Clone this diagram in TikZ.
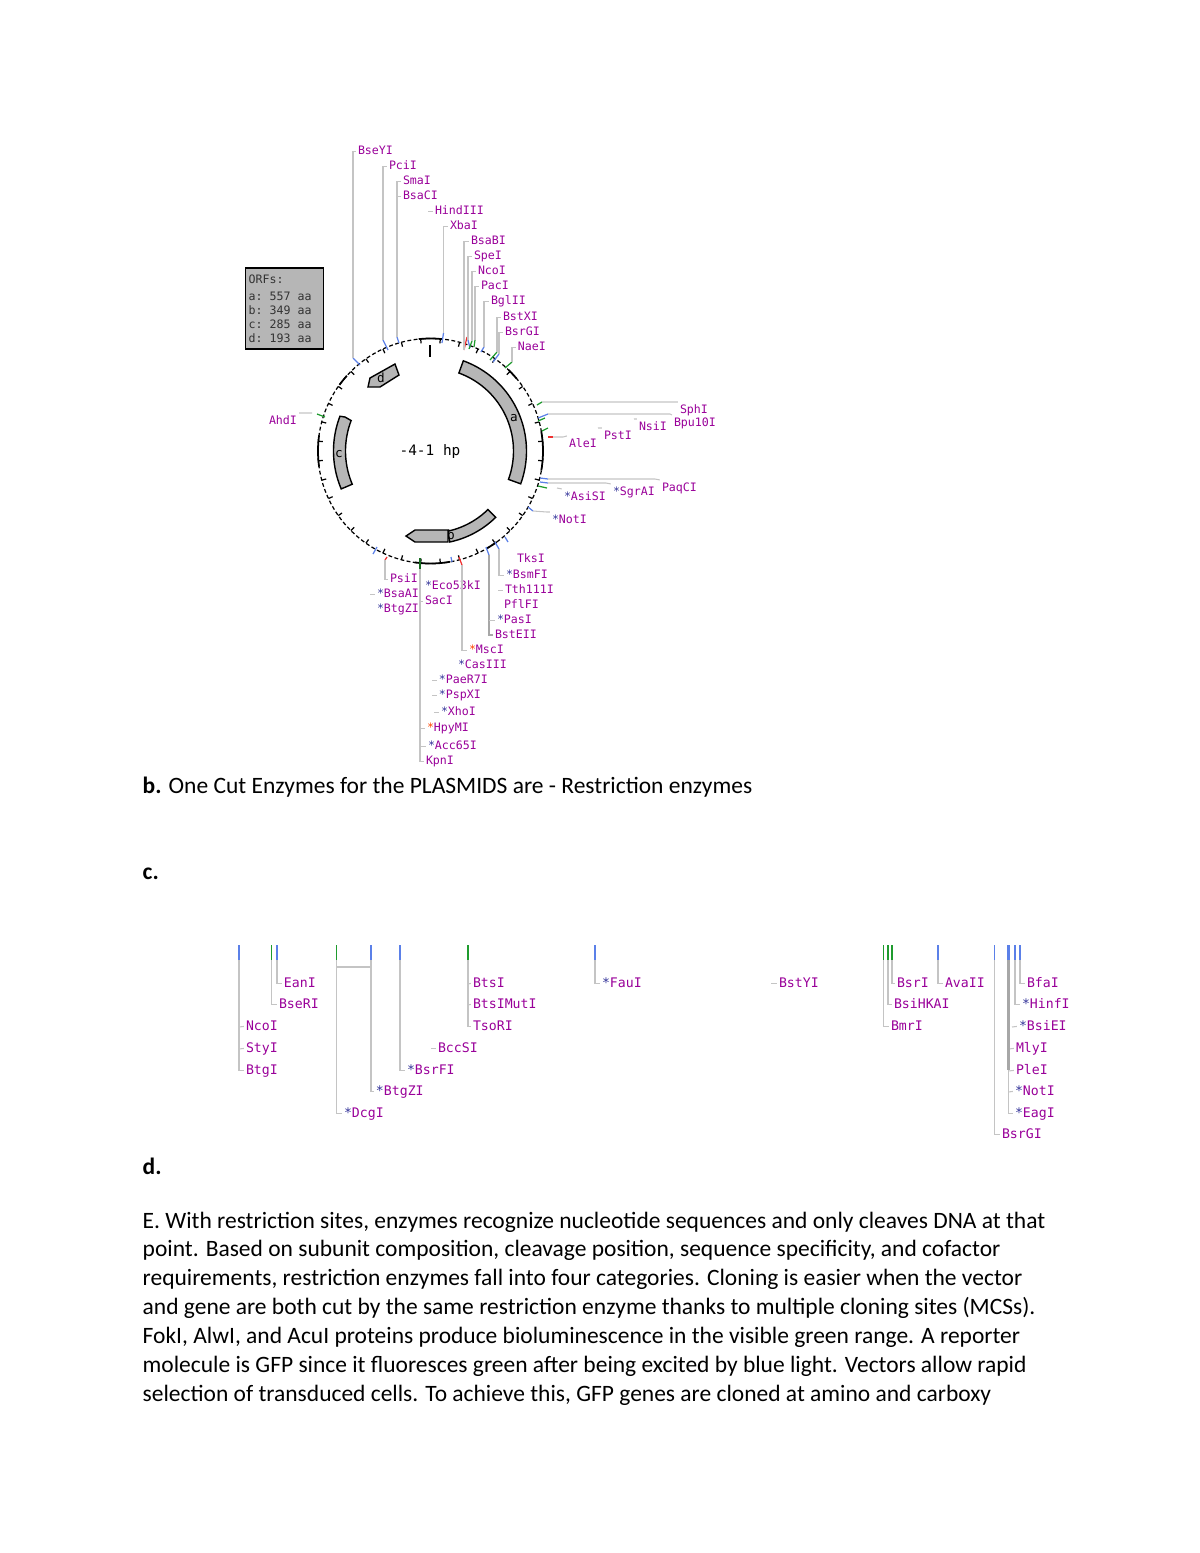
\documentclass[tikz,border=0pt]{standalone}
\usepackage{fontspec}
\setmainfont{Carlito}
\setmonofont{DejaVu Sans Mono}
\definecolor{enzpurple}{HTML}{990099}
\definecolor{enzblue}{HTML}{333399}
\definecolor{enzorange}{HTML}{FF4400}
\definecolor{siteblue}{HTML}{5B80E8}
\definecolor{sitegreen}{HTML}{1F9B2E}
\definecolor{sitered}{HTML}{F03030}
\definecolor{linkgray}{HTML}{C4C4C4}
\definecolor{orfgray}{HTML}{B6B6B6}
\newcommand{\mk}{\textcolor{enzblue}{*}}
\newcommand{\mkh}{\textcolor{enzorange}{*}}
\begin{document}
\begin{tikzpicture}[
	x=0.01cm, y=-0.01cm,
	enzyme/.style={anchor=west, inner sep=0pt, outer sep=0.6pt, xshift=-0.6pt, yshift=-0.4pt, text=enzpurple, text height=2.8pt, text depth=0.6pt, font=\ttfamily\fontsize{3.75}{4}\selectfont},
	mapenzyme/.style={enzyme, yshift=0.1pt, font=\ttfamily\fontsize{3.3}{4}\selectfont},
	link/.style={draw=linkgray, line width=0.3pt},
	thicklink/.style={draw=linkgray!85!black, line width=0.7pt},
	sitetick/.style={line width=0.35pt},
	ring/.style={draw=black, line width=0.35pt},
	orf/.style={draw=black, fill=orfgray, line width=0.4pt},
	orfname/.style={inner sep=0pt, font=\ttfamily\fontsize{3.6}{4}\selectfont},
	boxline/.style={anchor=west, inner sep=0pt, text=black!80, font=\ttfamily\fontsize{3.3}{4}\selectfont},
	body/.style={anchor=west, inner sep=0pt, align=left, font=\fontsize{6.68}{8.2}\selectfont}
]
\useasboundingbox (0,0) rectangle (1200,1553);
\coordinate (centre) at (430.5,451);
\draw[ring, dash pattern=on 1.1pt off 0.7pt] (centre) circle [radius=1.125cm];
\foreach \from/\to in {84/96, 172/188, -10/10, 262/280, 300/306, 138/144, 40/46}
	\draw[ring, line width=0.5pt] plot[domain=\from:\to, samples=12] ({430.5+112.5*cos(\x)},{451-112.5*sin(\x)});
\foreach \a in {5,15,...,355}
	\draw[ring] ({430.5+112.5*cos(\a)},{451-112.5*sin(\a)}) -- ({430.5+108*cos(\a)},{451-108*sin(\a)});
\draw[ring, line width=0.5pt] (430,345) -- (430,357);
\draw[orf] plot[domain=70:-20, samples=40] ({430.5+96*cos(\x)},{451-96*sin(\x)}) -- plot[domain=-20:70, samples=40] ({430.5+83*cos(\x)},{451-83*sin(\x)}) -- cycle;
\draw[orf] plot[domain=-45.5:-78, samples=20] ({430.5+93*cos(\x)},{451-93*sin(\x)}) -- plot[domain=-78:-45.5, samples=20] ({430.5+82*cos(\x)},{451-82*sin(\x)}) -- cycle;
\draw[orf] (448,530) -- (415,530) -- (406,536) -- (415,542) -- (448,542) -- cycle;
\draw[orf] (345,417) -- plot[domain=159:203, samples=24] ({430.5+97*cos(\x)},{451-97*sin(\x)}) -- plot[domain=203:159, samples=24] ({430.5+85*cos(\x)},{451-85*sin(\x)}) -- cycle;
\draw[orf] (370,378) -- (395,364) -- (399,375) -- (380,387) -- (368,387) -- cycle;
\node[orfname] (orfa) at (514,418) {a};
\node[orfname] (orfb) at (451,535) {b};
\node[orfname] (orfc) at (339,454) {c};
\node[orfname] (orfd) at (381,378) {d};
\node[inner sep=0pt, font=\ttfamily\fontsize{4.1}{5}\selectfont] (size) at (430,452) {-4-1 hp};
\node[draw=black, fill=orfgray, line width=0.5pt, anchor=north west, minimum width=0.78cm, minimum height=0.81cm, inner sep=0pt] (orfbox) at (244.5,267) {};
\node[boxline] (orfhead) at (248,279) {ORFs:};
\node[boxline] (orfrowa) at (248,296) {a: 557 aa};
\node[boxline] (orfrowb) at (248,310) {b: 349 aa};
\node[boxline] (orfrowc) at (248,324) {c: 285 aa};
\node[boxline] (orfrowd) at (248,338) {d: 193 aa};
\foreach \nm/\lx/\ly/\tx/\ty/\ux/\uy/\col/\txt in {
	bseyi/358/150/353/358/360/365/siteblue/BseYI,
	pcii/389/165/383/340/388/350/siteblue/PciI,
	smai/403/180/397/337/399/343/siteblue/SmaI,
	xbai/450/225/443.5/333/442/343/siteblue/XbaI,
	bsabi/471/240/464/350/467/337/sitered/BsaBI,
	spei/474/255/468/340/470/348/siteblue/SpeI,
	ncoi/478/270/472/341/469/349/sitegreen/NcoI,
	paci/481/285/475/340/474/347/sitegreen/PacI,
	bglii/491/300/484/347/481/352/siteblue/BglII,
	bstxi/503/316/497/352/490/360/sitegreen/BstXI,
	bsrgi/505/331/499/354/493/362/siteblue/BsrGI,
	naei/518/346/512/362/505/368/sitegreen/NaeI}{
	\node[mapenzyme] (\nm) at (\lx,\ly) {\txt};
	\coordinate (\nm tick) at (\tx,\ty);
	\draw[sitetick, \col] (\nm tick) -- (\ux,\uy);
	\draw[link] (\nm tick) |- (\nm.west);
}
\node[mapenzyme] (bsaci) at (403,195) {BsaCI};
\draw[link] (smai.west -| smaitick) |- (bsaci.west);
\node[mapenzyme] (hindiii) at (435,210) {HindIII};
\draw[link] (hindiii.west) -- ++(-5,0);
\foreach \nm/\lx/\ly/\col/\ax/\ay/\bx/\by/\cx/\cy/\txt in {
	sphi/680/409/sitegreen/537/405/542/402/677/402/SphI,
	bpui/674/422/siteblue/538/418/548/414/670/414/Bpu10I,
	paqci/662/487/siteblue/540/478/548/479/655/479/PaqCI,
	sgrai/613/491/siteblue/540/482/548/483/606/483/\mk SgrAI,
	notb/552/519/siteblue/528/507/533/511/547/512/\mk NotI,
	alei/569/443/sitered/548/437/553/437/563/437/AleI}{
	\node[mapenzyme] (\nm) at (\lx,\ly) {\txt};
	\coordinate (\nm a) at (\ax,\ay);
	\coordinate (\nm b) at (\bx,\by);
	\draw[sitetick, \col] (\nm a) -- (\nm b);
	\draw[link] (\nm b) -- (\cx,\cy) -- (\nm.north west);
}
\foreach \nm/\lx/\ly/\ax/\ay/\txt in {
	nsii/639/426/634/419/NsiI,
	psti/604/435/598/428/PstI,
	asisi/564/496/557/488/\mk AsiSI}{
	\node[mapenzyme] (\nm) at (\lx,\ly) {\txt};
	\draw[link] (\nm.north west) -- (\ax,\ay);
}
\draw[sitetick, sitegreen] (545,418) -- (538,421);
\draw[sitetick, sitegreen] (548,428) -- (542,431);
\draw[sitetick, sitegreen] (538,486) -- (547,488);
\node[mapenzyme] (ahdi) at (269,420) {AhdI};
\coordinate (ahdia) at (312,413);
\draw[link] (ahdi.north east) -- (300,413) -- (ahdia);
\draw[sitetick, sitegreen] (317,414) -- (325,417);
\node[mapenzyme] (psii) at (390,578) {PsiI};
\coordinate (psiitick) at (385,560);
\draw[sitetick, sitered] (387,557) -- (psiitick);
\draw[link] (psiitick) |- (psii.west);
\node[mapenzyme] (sacitop) at (425,585) {\mk Eco53kI};
\node[mapenzyme] (saci) at (425,600) {SacI};
\node[mapenzyme] (kpni) at (426,760) {KpnI};
\node[mapenzyme] (accb) at (428,745) {\mk Acc65I};
\node[mapenzyme] (hpymi) at (427,727) {\mkh HpyMI};
\node[mapenzyme] (xhoi) at (441,711) {\mk XhoI};
\node[mapenzyme] (pspxi) at (439,694) {\mk PspXI};
\node[mapenzyme] (paeri) at (439,679) {\mk PaeR7I};
\coordinate (kpnitick) at (420,558);
\draw[sitetick, sitegreen!70!black, line width=0.7pt] (kpnitick) -- (420,569);
\draw[link] (420,569) |- (kpni.west);
\draw[link] (saci.west) -| (420,600);
\draw[link] (accb.west) -- ++(-5,0);
\draw[link] (hpymi.west) -- ++(-5,0);
\draw[link] (xhoi.west) -- ++(-5,0);
\draw[link] (pspxi.west) -- ++(-5,0);
\draw[link] (paeri.west) -- ++(-5,0);
\node[mapenzyme] (bsaai) at (377,593) {\mk BsaAI};
\node[mapenzyme] (btgzia) at (377,608) {\mk BtgZI};
\draw[link] (bsaai.west) -- ++(-5,0);
\node[mapenzyme] (msci) at (469,649) {\mkh MscI};
\coordinate (mscitick) at (462,565);
\draw[sitetick, sitered] (459,557) -- (mscitick);
\draw[link] (mscitick) |- (msci.west);
\node[mapenzyme] (fseii) at (458,664) {\mk CasIII};
\node[mapenzyme] (bsteii) at (495,634) {BstEII};
\node[mapenzyme] (pasi) at (497,619) {\mk PasI};
\node[mapenzyme] (pflfi) at (504,604) {PflFI};
\node[mapenzyme] (tthi) at (505,589) {Tth111I};
\node[mapenzyme] (bsmfi) at (506,574) {\mk BsmFI};
\node[mapenzyme] (tksi) at (517,558) {TksI};
\coordinate (bstetick) at (489,555);
\coordinate (bsmtick) at (499,549);
\draw[sitetick, siteblue] (486,547) -- (bstetick);
\draw[sitetick, siteblue] (495,542) -- (bsmtick);
\draw[sitetick, siteblue] (505,537) -- (508,542);
\draw[sitetick, siteblue] (451,557) -- (452,562);
\draw[sitetick, siteblue] (377,547) -- (373,554);
\draw[thicklink] (bstetick) |- (bsteii.west);
\draw[link] (bsmtick) |- (bsmfi.west);
\draw[link] (tthi.west) -- ++(-5,0);
\draw[link] (pasi.west) -- (pasi.west -| bstetick);
\foreach \nm/\lx/\ly/\tx/\col/\txt in {
	eani/284/982/277/siteblue/EanI,
	bseri/279/1003/271.7/sitegreen/BseRI,
	btgi/246/1069/239/siteblue/BtgI,
	dcgi/344/1112/336.7/sitegreen/\mk DcgI,
	btgzib/376/1090/371/siteblue/\mk BtgZI,
	bsrfi/407/1069/400/siteblue/\mk BsrFI,
	tsori/473/1025/468/sitegreen/TsoRI,
	faui/602/982/595/siteblue/\mk FauI,
	bmri/891/1025/883.5/sitegreen/BmrI,
	bsihkai/894/1003/888/sitegreen/BsiHKAI,
	bsri/897/982/892/sitegreen/BsrI,
	avaii/945/982/938/siteblue/AvaII,
	bsrgib/1002/1133/994.5/siteblue/BsrGI,
	hinfi/1022/1003/1015/siteblue/\mk HinfI,
	bfai/1027/982/1020/siteblue/BfaI}{
	\node[enzyme] (\nm) at (\lx,\ly) {\txt};
	\coordinate (\nm tick) at (\tx,960);
	\draw[sitetick, \col, line width=0.45pt] (\tx,945) -- (\nm tick);
	\draw[link] (\nm tick) |- (\nm.west);
}
\foreach \nm/\lx/\ly/\tx/\txt in {
	ncoib/246/1025/239/NcoI,
	styi/246/1047/239/StyI,
	btsi/473/982/468/BtsI,
	btsimuti/473/1003/468/BtsIMutI,
	bsiei/1019/1025/1012/\mk BsiEI,
	mlyi/1016/1047/1008.5/MlyI,
	plei/1016/1069/1008.5/PleI,
	notib/1015/1090/1008.5/\mk NotI}{
	\node[enzyme] (\nm) at (\lx,\ly) {\txt};
	\draw[link] (\nm.west) -- (\tx,\ly+2);
}
\draw[link] (dcgitick |- 0,967) -- (btgzibtick |- 0,967);
\node[enzyme] (bccsi) at (438,1047) {BccSI};
\draw[link] (bccsi.west) -- ++(-5,0);
\node[enzyme] (bstyi) at (779,982) {BstYI};
\draw[link] (bstyi.west) -- ++(-6,0);
\node[enzyme] (eagi) at (1015,1112) {\mk EagI};
\coordinate (eagitick) at (1008.5,960);
\draw[sitetick, siteblue, line width=0.7pt] (1008.5,945) -- (eagitick);
\draw[thicklink] (eagitick) -- (plei.west -| eagitick);
\draw[link] (plei.west -| eagitick) |- (eagi.west);
\node[body] (lineb) at (142,787) {\textbf{b.} One Cut Enzymes for the PLASMIDS are - Restriction enzymes};
\node[body] (linec) at (142,874) {\textbf{c.}};
\node[body] (lined) at (142,1166) {\textbf{d.}};
\node[body, anchor=north west] (linee) at (142,1211) {E. With restriction sites, enzymes recognize nucleotide sequences and only cleaves DNA at that\\
point. Based on subunit composition, cleavage position, sequence specificity, and cofactor\\
requirements, restriction enzymes fall into four categories. Cloning is easier when the vector\\
and gene are both cut by the same restriction enzyme thanks to multiple cloning sites (MCSs).\\
FokI, AlwI, and AcuI proteins produce bioluminescence in the visible green range. A reporter\\
molecule is GFP since it fluoresces green after being excited by blue light. Vectors allow rapid\\
selection of transduced cells. To achieve this, GFP genes are cloned at amino and carboxy};
\end{tikzpicture}
\end{document}
